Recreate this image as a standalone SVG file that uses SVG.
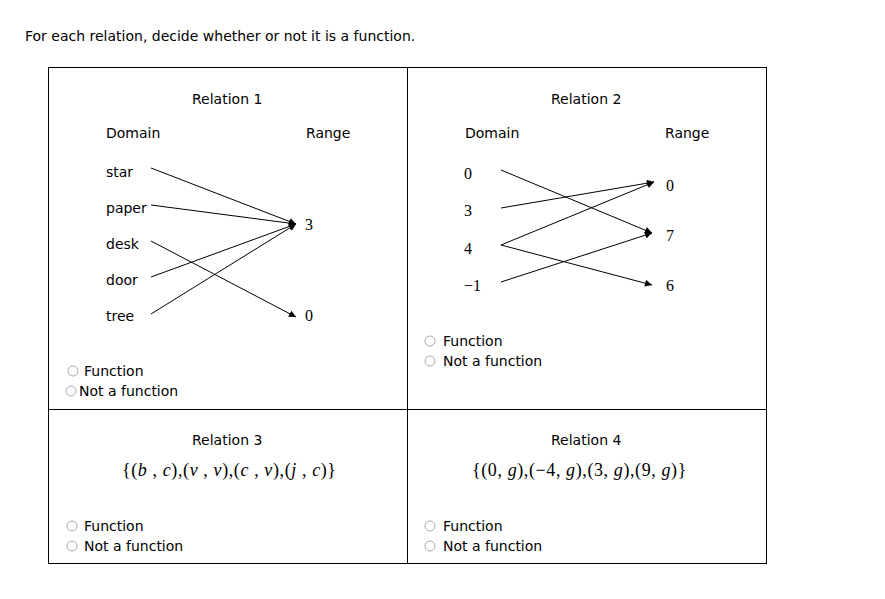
<svg xmlns="http://www.w3.org/2000/svg" width="885" height="599" viewBox="0 0 885 599">
<style>
.s{font-family:"DejaVu Sans",Verdana,sans-serif;font-size:14px;fill:#000}
.m{font-family:"Liberation Serif","Times New Roman",serif;font-size:16px;fill:#000}
.mi{font-family:"Liberation Serif","Times New Roman",serif;font-size:18px;fill:#000;letter-spacing:0.6px}
.l{stroke:#000;stroke-width:1;fill:none;marker-end:url(#a)}
.r{fill:#fff;stroke:#aaa;stroke-width:1}
</style>
<defs><marker id="a" viewBox="0 0 10 10" refX="10" refY="5" markerWidth="10" markerHeight="7" markerUnits="userSpaceOnUse" orient="auto"><path d="M0,0L10,5L0,10z" fill="#000"/></marker></defs>
<rect width="885" height="599" fill="#fff"/>
<text class="s" x="25" y="41">For each relation, decide whether or not it is a function.</text>
<g id="table" fill="none" stroke="#000"><rect x="48.5" y="67.5" width="718" height="496"/><line x1="407.5" y1="67" x2="407.5" y2="563"/><line x1="48" y1="409.5" x2="766" y2="409.5"/></g>
<g id="rel1">
<text class="s" x="192" y="104">Relation 1</text>
<text class="s" x="106" y="138">Domain</text><text class="s" x="306" y="138">Range</text>
<text class="s" x="106" y="177">star</text><text class="s" x="106" y="213">paper</text><text class="s" x="106" y="249">desk</text><text class="s" x="106" y="285">door</text><text class="s" x="106" y="321">tree</text>
<text class="m" x="305" y="230">3</text><text class="m" x="305" y="321">0</text>
<circle class="r" cx="73" cy="371" r="5"/><text class="s" x="84" y="376">Function</text>
<circle class="r" cx="71" cy="391" r="5"/><text class="s" x="79" y="396">Not a function</text>
</g>
<g id="rel2">
<text class="s" x="551" y="104">Relation 2</text>
<text class="s" x="465" y="138">Domain</text><text class="s" x="665" y="138">Range</text>
<text class="m" x="464" y="179">0</text><text class="m" x="464" y="216">3</text><text class="m" x="464" y="254">4</text><text class="m" x="464" y="291">−1</text>
<text class="m" x="666" y="191">0</text><text class="m" x="666" y="241">7</text><text class="m" x="666" y="291">6</text>
<circle class="r" cx="430" cy="341" r="5"/><text class="s" x="443" y="346">Function</text>
<circle class="r" cx="430" cy="361" r="5"/><text class="s" x="443" y="366">Not a function</text>
</g>
<g id="rel3">
<text class="s" x="192" y="445">Relation 3</text>
<text class="mi" x="122" y="476">{(<tspan font-style="italic">b</tspan> , <tspan font-style="italic">c</tspan>),(<tspan font-style="italic">v</tspan> , <tspan font-style="italic">v</tspan>),(<tspan font-style="italic">c</tspan> , <tspan font-style="italic">v</tspan>),(<tspan font-style="italic">j</tspan> , <tspan font-style="italic">c</tspan>)}</text>
<circle class="r" cx="72" cy="526" r="5"/><text class="s" x="84" y="531">Function</text>
<circle class="r" cx="72" cy="546" r="5"/><text class="s" x="84" y="551">Not a function</text>
</g>
<g id="rel4">
<text class="s" x="551" y="445">Relation 4</text>
<text class="mi" x="472" y="476">{(0, <tspan font-style="italic">g</tspan>),(−4, <tspan font-style="italic">g</tspan>),(3, <tspan font-style="italic">g</tspan>),(9, <tspan font-style="italic">g</tspan>)}</text>
<circle class="r" cx="430" cy="526" r="5"/><text class="s" x="443" y="531">Function</text>
<circle class="r" cx="430" cy="546" r="5"/><text class="s" x="443" y="551">Not a function</text>
</g>
<g id="connectors">
<line class="l" x1="151" y1="168" x2="296" y2="224"/>
<line class="l" x1="151" y1="205" x2="296" y2="224"/>
<line class="l" x1="151" y1="241" x2="296" y2="317"/>
<line class="l" x1="151" y1="277" x2="296" y2="224"/>
<line class="l" x1="151" y1="314" x2="296" y2="224"/>
<line class="l" x1="501" y1="170" x2="652" y2="233"/>
<line class="l" x1="501" y1="208" x2="654" y2="182"/>
<line class="l" x1="501" y1="245" x2="654" y2="182"/>
<line class="l" x1="501" y1="245" x2="652" y2="285"/>
<line class="l" x1="501" y1="282" x2="652" y2="233"/>
</g>
</svg>
